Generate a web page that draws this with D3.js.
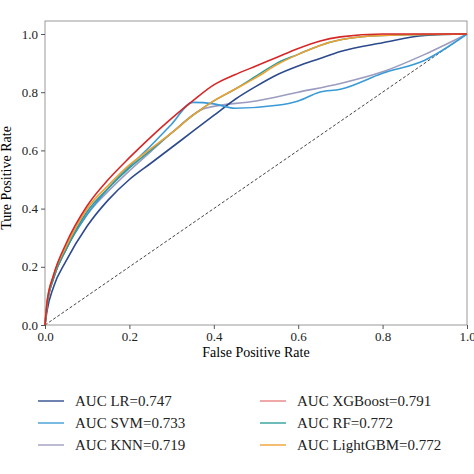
<!DOCTYPE html>
<html><head><meta charset="utf-8">
<script src="https://cdn.jsdelivr.net/npm/d3@7"></script>
<style>body{margin:0;background:#fff}text{font-family:"Liberation Serif",serif}</style>
</head><body><svg id="c" width="474" height="474"></svg>
<script>
const names=["AUC LR=0.747","AUC SVM=0.733","AUC KNN=0.719","AUC XGBoost=0.791","AUC RF=0.772","AUC LightGBM=0.772"];
const colors=["#2c4a8c","#3a9ad6","#9c9cc0","#d62728","#2a9d9a","#f0a030"];
const ticks=[0,0.2,0.4,0.6,0.8,1.0];
const lr=[[0,0],[0.005,0.05],[0.02,0.13],[0.05,0.22],[0.1,0.34],[0.15,0.43],[0.2,0.5],[0.25,0.555],[0.3,0.61],[0.35,0.665],[0.4,0.72],[0.45,0.775],[0.5,0.82],[0.55,0.86],[0.6,0.89],[0.65,0.915],[0.7,0.94],[0.8,0.97],[0.9,0.995],[1,1]];
const svm=[[0,0],[0.005,0.07],[0.02,0.16],[0.05,0.26],[0.1,0.38],[0.15,0.47],[0.2,0.545],[0.25,0.615],[0.3,0.69],[0.35,0.765],[0.4,0.76],[0.45,0.745],[0.55,0.755],[0.6,0.77],[0.65,0.8],[0.7,0.81],[0.8,0.865],[0.9,0.91],[1,1]];
const knn=[[0,0],[0.005,0.07],[0.02,0.16],[0.05,0.26],[0.1,0.38],[0.15,0.46],[0.2,0.53],[0.25,0.595],[0.3,0.66],[0.38,0.745],[0.5,0.77],[0.6,0.8],[0.7,0.83],[0.8,0.87],[0.9,0.93],[1,1]];
const xgb=[[0,0],[0.005,0.08],[0.02,0.17],[0.05,0.28],[0.1,0.41],[0.15,0.5],[0.2,0.575],[0.25,0.645],[0.3,0.71],[0.35,0.77],[0.4,0.825],[0.45,0.86],[0.5,0.89],[0.55,0.92],[0.6,0.95],[0.65,0.975],[0.7,0.99],[0.8,1],[1,1]];
const rf=[[0,0],[0.005,0.07],[0.02,0.16],[0.05,0.26],[0.1,0.39],[0.15,0.47],[0.2,0.54],[0.25,0.6],[0.3,0.66],[0.35,0.72],[0.4,0.77],[0.45,0.81],[0.5,0.855],[0.55,0.9],[0.6,0.93],[0.65,0.96],[0.7,0.98],[0.8,0.995],[1,1]];
const lgbm=[[0,0],[0.005,0.08],[0.02,0.17],[0.05,0.27],[0.1,0.4],[0.15,0.48],[0.2,0.55],[0.25,0.605],[0.3,0.66],[0.35,0.72],[0.4,0.77],[0.45,0.81],[0.5,0.85],[0.55,0.895],[0.6,0.93],[0.65,0.96],[0.7,0.98],[0.8,0.995],[1,1]];
const series=[lr,svm,knn,xgb,rf,lgbm];
const svg=d3.select("#c");
const x=d3.scaleLinear().domain([0,1]).range([45,467]);
const y=d3.scaleLinear().domain([0,1]).range([325,34]);
svg.append("rect").attr("x",45).attr("y",21).attr("width",422).attr("height",304).attr("fill","none").attr("stroke","#999");
const ax=svg.append("g").attr("transform","translate(0,325)").call(d3.axisBottom(x).tickValues(ticks).tickFormat(d3.format(".1f")).tickSizeOuter(0).tickSize(4));
const ay=svg.append("g").attr("transform","translate(45,0)").call(d3.axisLeft(y).tickValues(ticks).tickFormat(d3.format(".1f")).tickSizeOuter(0).tickSize(4));
[ax,ay].forEach(a=>{a.select(".domain").remove();a.selectAll("line").attr("stroke","#555");a.selectAll("text").attr("font-size",13).attr("fill","#222");});
const line=d3.line().x(d=>x(d[0])).y(d=>y(d[1])).curve(d3.curveMonotoneX);
svg.append("path").attr("d",line([[0,0],[1,1]])).attr("stroke","#444").attr("stroke-dasharray","3,2").attr("fill","none");
[2,0,1,4,5,3].forEach(i=>svg.append("path").attr("d",line(series[i])).attr("stroke",colors[i]).attr("stroke-width",1.6).attr("fill","none"));
svg.append("text").attr("x",256).attr("y",357).attr("text-anchor","middle").attr("font-size",14).text("False Positive Rate");
svg.append("text").attr("transform","translate(11,178) rotate(-90)").attr("text-anchor","middle").attr("font-size",14).text("Ture Positive Rate");
names.forEach((n,i)=>{const cx=i<3?38:260, cy=401+(i%3)*22;
svg.append("line").attr("x1",cx).attr("x2",cx+26).attr("y1",cy).attr("y2",cy).attr("stroke",colors[i]).attr("stroke-width",1.6).attr("opacity",i==3?0.5:0.85);
svg.append("text").attr("x",cx+37).attr("y",cy+5).attr("font-size",15).attr("fill","#222").text(n);});
</script></body></html>
